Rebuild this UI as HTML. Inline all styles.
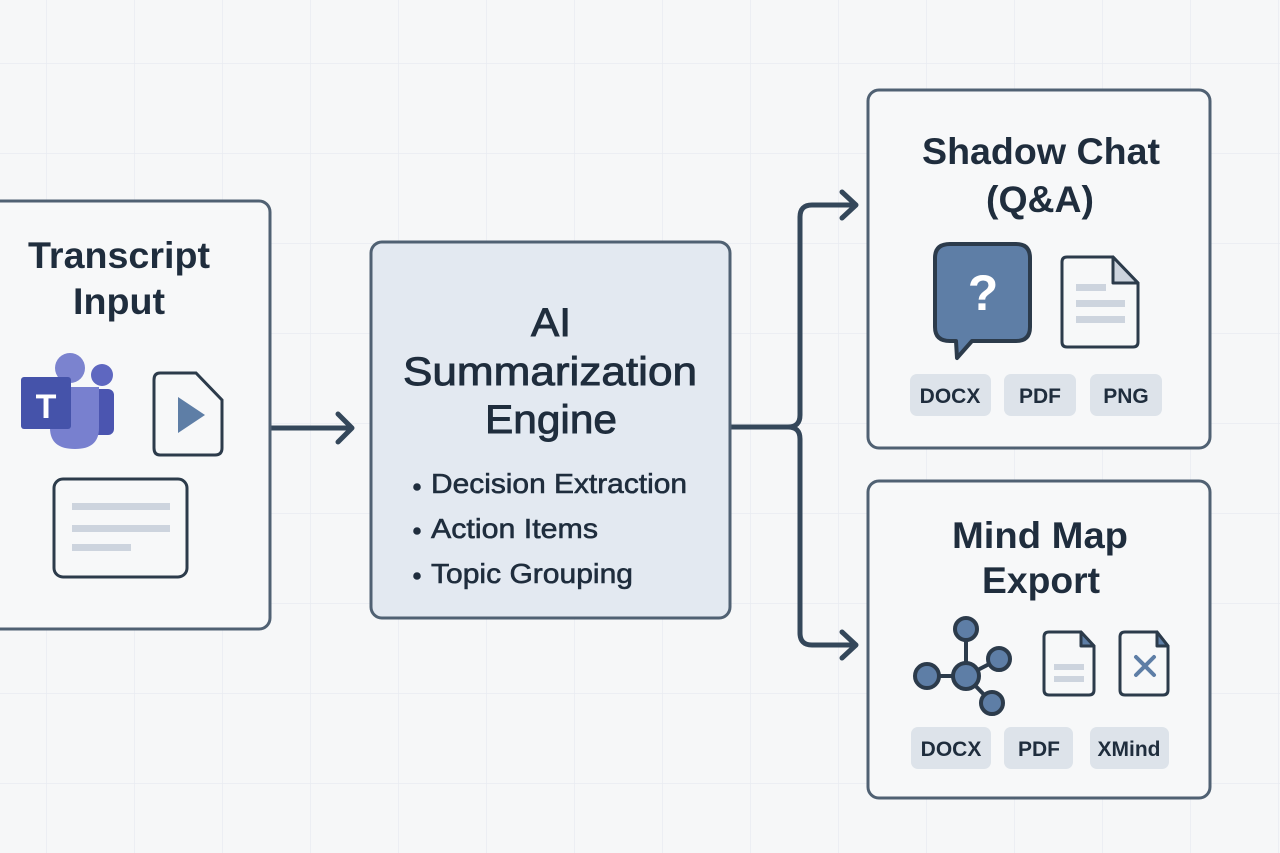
<!DOCTYPE html>
<html><head><meta charset="utf-8"><style>
html,body{margin:0;padding:0;background:#f6f7f8;}
svg{display:block}
text{font-family:"Liberation Sans","DejaVu Sans",sans-serif;fill:#1f2d3d;}
.m{stroke:#1f2d3d;stroke-width:0.9px;}
</style></head><body>
<svg width="1280" height="853" viewBox="0 0 1280 853" xmlns="http://www.w3.org/2000/svg">
<defs>
<pattern id="g" x="46" y="63" width="88" height="90" patternUnits="userSpaceOnUse">
<path d="M0 0V90M0 0H88" stroke="#e8ecf1" stroke-width="1.5" fill="none"/>
</pattern>
</defs>
<rect width="1280" height="853" fill="#f6f7f8"/>
<rect width="1280" height="853" fill="url(#g)"/>

<g stroke="#34475a" stroke-width="5" fill="none" stroke-linecap="round" stroke-linejoin="round">
<path d="M271 428H352M338 414L352 428L338 442"/>
<path d="M731 427H788Q800 427 800 415V217Q800 205 812 205H855M842 192L856 205L842 218"/>
<path d="M788 427Q800 427 800 439V633Q800 645 812 645H855M842 632L856 645L842 658"/>
</g>

<g stroke="#506173" stroke-width="3">
<rect x="-10" y="201" width="280" height="428" rx="11" fill="#f7f8f9"/>
<rect x="371" y="242" width="359" height="376" rx="11" fill="#e3e9f1"/>
<rect x="868" y="90" width="342" height="358" rx="11" fill="#f7f8f9"/>
<rect x="868" y="481" width="342" height="317" rx="11" fill="#f7f8f9"/>
</g>

<g font-size="37" font-weight="bold" text-anchor="middle">
<text x="119" y="268" textLength="182" lengthAdjust="spacingAndGlyphs">Transcript</text>
<text x="119" y="314" textLength="92" lengthAdjust="spacingAndGlyphs">Input</text>
</g>
<circle cx="70" cy="368" r="15" fill="#7b83cf"/>
<circle cx="102" cy="375" r="11" fill="#5e67c0"/>
<rect x="88" y="389" width="26" height="46" rx="6" fill="#4b55b0"/>
<path d="M50 387H99V428Q99 449 75 449Q50 449 50 428Z" fill="#7880cf"/>
<rect x="21" y="377" width="50" height="52" rx="3" fill="#4553aa"/>
<text x="46" y="418" font-size="34" font-weight="bold" text-anchor="middle" style="fill:#fff">T</text>
<path d="M160 373H196L222 400V448Q222 455 215 455H160Q154 455 154 448V380Q154 373 160 373Z" fill="#f7f8f9" stroke="#2c3b4b" stroke-width="3"/>
<path d="M178 397L205 415L178 433Z" fill="#5e7ea6"/>
<rect x="54" y="479" width="133" height="98" rx="9" fill="#f7f8f9" stroke="#2c3b4b" stroke-width="3"/>
<g fill="#cdd4de">
<rect x="72" y="503" width="98" height="7"/>
<rect x="72" y="525" width="98" height="7"/>
<rect x="72" y="544" width="59" height="7"/>
</g>

<g font-size="40" text-anchor="middle" class="m">
<text x="551" y="336" textLength="40" lengthAdjust="spacingAndGlyphs">AI</text>
<text x="550" y="385" textLength="294" lengthAdjust="spacingAndGlyphs">Summarization</text>
<text x="551" y="433" textLength="132" lengthAdjust="spacingAndGlyphs">Engine</text>
</g>
<g font-size="28" class="m" style="stroke-width:0.6px">
<circle cx="417" cy="487" r="3.5" fill="#1f2d3d"/>
<text x="431" y="493" textLength="256" lengthAdjust="spacingAndGlyphs">Decision Extraction</text>
<circle cx="417" cy="531" r="3.5" fill="#1f2d3d"/>
<text x="431" y="538" textLength="167" lengthAdjust="spacingAndGlyphs">Action Items</text>
<circle cx="417" cy="576" r="3.5" fill="#1f2d3d"/>
<text x="431" y="583" textLength="202" lengthAdjust="spacingAndGlyphs">Topic Grouping</text>
</g>

<g font-size="37" text-anchor="middle" font-weight="bold">
<text x="1041" y="164" textLength="238" lengthAdjust="spacingAndGlyphs">Shadow Chat</text>
<text x="1040" y="212" textLength="108" lengthAdjust="spacingAndGlyphs">(Q&amp;A)</text>
</g>
<path d="M950 244H1016Q1030 244 1030 258V327Q1030 341 1016 341H972L957 358L956 341H950Q935 341 935 327V258Q935 244 950 244Z" fill="#5e7ea6" stroke="#2c3b4b" stroke-width="4" stroke-linejoin="round"/>
<text x="983" y="310" font-size="50" font-weight="bold" text-anchor="middle" style="fill:#fff">?</text>
<path d="M1067 257H1113L1138 283V342Q1138 347 1133 347H1067Q1062 347 1062 342V262Q1062 257 1067 257Z" fill="#f7f8f9" stroke="#2c3b4b" stroke-width="3"/>
<path d="M1113 257V283H1138Z" fill="#cdd4de" stroke="#2c3b4b" stroke-width="3" stroke-linejoin="round"/>
<g fill="#cdd4de"><rect x="1076" y="284" width="30" height="7"/><rect x="1076" y="300" width="49" height="7"/><rect x="1076" y="316" width="49" height="7"/></g>
<g fill="#dde3ea">
<rect x="910" y="374" width="81" height="42" rx="7"/>
<rect x="1004" y="374" width="72" height="42" rx="7"/>
<rect x="1090" y="374" width="72" height="42" rx="7"/>
</g>
<g font-size="21" text-anchor="middle" font-weight="bold">
<text x="950" y="403">DOCX</text><text x="1040" y="403">PDF</text><text x="1126" y="403">PNG</text>
</g>

<g font-size="37" text-anchor="middle" font-weight="bold">
<text x="1040" y="548" textLength="176" lengthAdjust="spacingAndGlyphs">Mind Map</text>
<text x="1041" y="593" textLength="118" lengthAdjust="spacingAndGlyphs">Export</text>
</g>
<g stroke="#2c3b4b" stroke-width="4" fill="#5e7ea6">
<path d="M927 676H966V629M966 676L999 659M966 676L992 703" fill="none"/>
<circle cx="927" cy="676" r="12"/>
<circle cx="966" cy="676" r="13"/>
<circle cx="966" cy="629" r="11"/>
<circle cx="999" cy="659" r="11"/>
<circle cx="992" cy="703" r="11"/>
</g>
<g stroke="#2c3b4b" stroke-width="3">
<path d="M1049 632H1081L1094 646V690Q1094 695 1089 695H1049Q1044 695 1044 690V637Q1044 632 1049 632Z" fill="#f7f8f9"/>
<path d="M1081 632V646H1094Z" fill="#5e7ea6" stroke-linejoin="round"/>
<path d="M1125 632H1157L1168 646V690Q1168 695 1163 695H1125Q1120 695 1120 690V637Q1120 632 1125 632Z" fill="#f7f8f9"/>
<path d="M1157 632V646H1168Z" fill="#5e7ea6" stroke-linejoin="round"/>
</g>
<g fill="#cdd4de"><rect x="1054" y="664" width="30" height="6"/><rect x="1054" y="676" width="30" height="6"/></g>
<path d="M1136 657L1154 675M1154 657L1136 675" stroke="#5e7ea6" stroke-width="4" stroke-linecap="round"/>
<g fill="#dde3ea">
<rect x="911" y="727" width="80" height="42" rx="7"/>
<rect x="1004" y="727" width="69" height="42" rx="7"/>
<rect x="1090" y="727" width="79" height="42" rx="7"/>
</g>
<g font-size="21" text-anchor="middle" font-weight="bold">
<text x="951" y="756">DOCX</text><text x="1039" y="756">PDF</text><text x="1129" y="756">XMind</text>
</g>
</svg>
</body></html>
